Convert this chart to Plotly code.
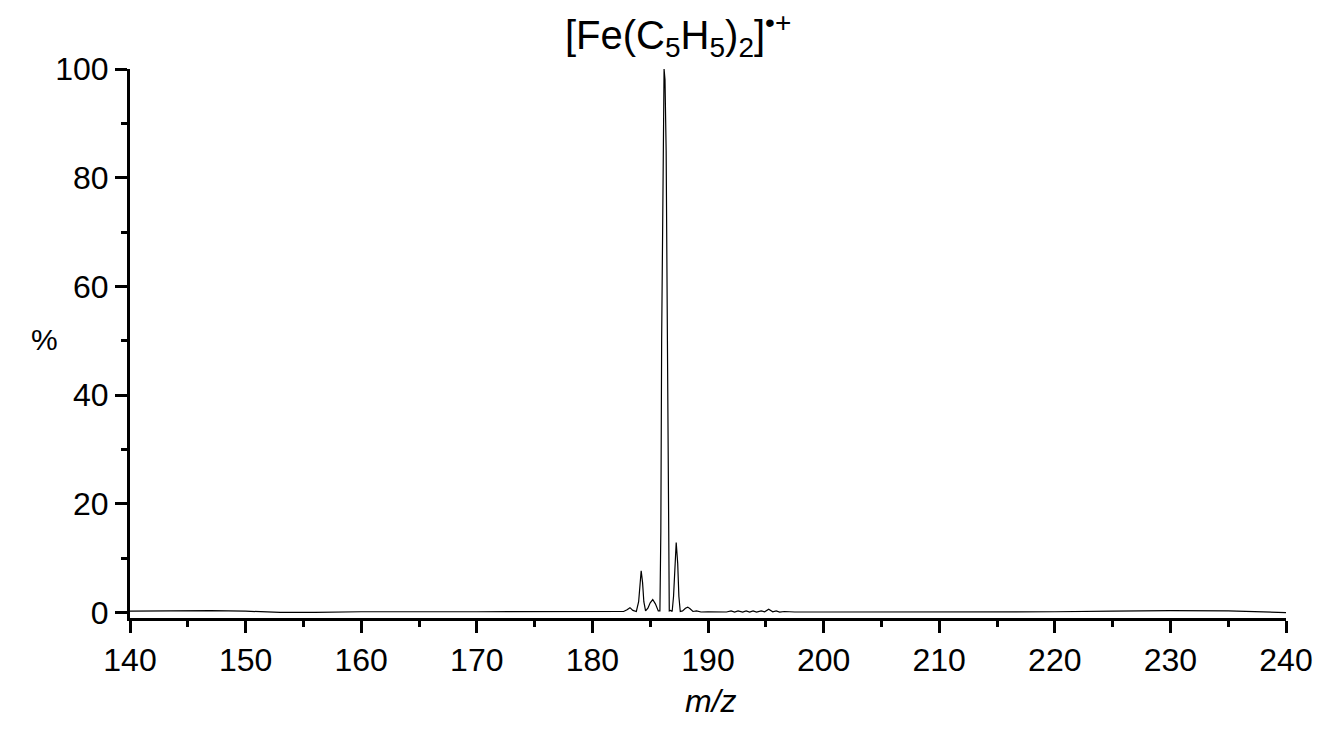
import plotly.graph_objects as go

# profile spectrum (m/z, relative intensity %)
mz = [140.0, 143.0, 147.0, 150.0, 153.0, 156.0, 160.0, 170.0, 180.0, 182.0,
      182.7, 183.0, 183.25, 183.5, 183.8, 184.0, 184.1, 184.22, 184.34, 184.45,
      184.6, 184.8, 185.0, 185.22, 185.45, 185.7, 185.84, 185.92, 185.99, 186.1,
      186.2, 186.28, 186.38, 186.49, 186.57, 186.65, 186.78, 186.9, 187.02, 187.12,
      187.25, 187.38, 187.48, 187.6, 187.8, 188.05, 188.25, 188.45, 188.7, 189.0,
      189.4, 190.0, 191.0, 191.6, 192.0, 192.3, 192.6, 193.0, 193.3, 193.6,
      193.9, 194.2, 194.6, 194.9, 195.25, 195.6, 195.9, 196.2, 196.6, 197.5,
      200.0, 210.0, 220.0, 225.0, 230.0, 235.0, 238.0, 240.0]
intensity = [0.25, 0.3, 0.35, 0.25, 0.05, 0.05, 0.15, 0.15, 0.15, 0.15,
             0.2, 0.5, 0.9, 0.4, 0.2, 2.0, 5.5, 7.7, 5.5, 2.0,
             0.3, 0.8, 1.8, 2.4, 1.6, 0.3, 0.3, 15.0, 50.0, 88.0,
             100.0, 98.0, 85.0, 50.0, 15.0, 0.3, 0.4, 0.2, 3.0, 9.0,
             12.9, 9.0, 3.0, 0.2, 0.3, 0.8, 1.0, 0.7, 0.2, 0.3,
             0.1, 0.15, 0.15, 0.1, 0.3, 0.1, 0.3, 0.1, 0.3, 0.1,
             0.3, 0.1, 0.3, 0.15, 0.6, 0.15, 0.3, 0.1, 0.2, 0.1,
             0.1, 0.1, 0.15, 0.25, 0.35, 0.3, 0.2, 0.0]

x_ticks = [140, 150, 160, 170, 180, 190, 200, 210, 220, 230, 240]
x_minor = [145, 155, 165, 175, 185, 195, 205, 215, 225, 235]
y_ticks = [0, 20, 40, 60, 80, 100]
y_minor = [10, 30, 50, 70, 90]
title_text = "[Fe(C<sub>5</sub>H<sub>5</sub>)<sub>2</sub>]<sup>\u2022+</sup>"
x_title = "<i>m/z</i>"
y_title = "%"
peak_mz = 186.2

FONT = "Liberation Sans, Arial, Helvetica, sans-serif"

fig = go.Figure()
fig.add_trace(go.Scatter(x=mz, y=intensity, mode="lines",
                         line=dict(color="black", width=1.2), hoverinfo="skip",
                         showlegend=False))

axis_common = dict(ticks="outside", ticklen=12, tickwidth=2.5, tickcolor="black",
                   showline=True, linewidth=3, linecolor="black", showgrid=False,
                   zeroline=False, mirror=False, automargin=False,
                   tickfont=dict(size=32, color="black", family=FONT))

fig.update_layout(
    width=1335, height=726,
    margin=dict(l=122, r=57, t=61, b=116),
    paper_bgcolor="white", plot_bgcolor="white",
    font=dict(family=FONT, size=32, color="black"),
    xaxis=dict(range=[140, 240], tickvals=x_ticks,
               minor=dict(tickvals=x_minor, ticks="outside", ticklen=6, tickwidth=2.5,
                          tickcolor="black", showgrid=False),
               **axis_common),
    yaxis=dict(range=[-1, 100], tickvals=y_ticks,
               minor=dict(tickvals=y_minor, ticks="outside", ticklen=6, tickwidth=2.5,
                          tickcolor="black", showgrid=False),
               **axis_common),
    annotations=[
        dict(text=title_text, x=peak_mz, xref="x", y=1.0, yref="paper",
             xanchor="center", yanchor="bottom", showarrow=False, xshift=14,
             yshift=4, font=dict(size=40, family=FONT)),
        dict(text=y_title, x=0, xref="paper", y=0.508, yref="paper", showarrow=False,
             xanchor="center", yanchor="middle", xshift=-86, font=dict(size=30, family=FONT)),
        dict(text=x_title, x=0.5, xref="paper", y=0, yref="paper", showarrow=False,
             xanchor="center", yanchor="top", yshift=-63, xshift=3,
             font=dict(size=32, family=FONT)),
    ],
)

fig.write_html("out.html")
